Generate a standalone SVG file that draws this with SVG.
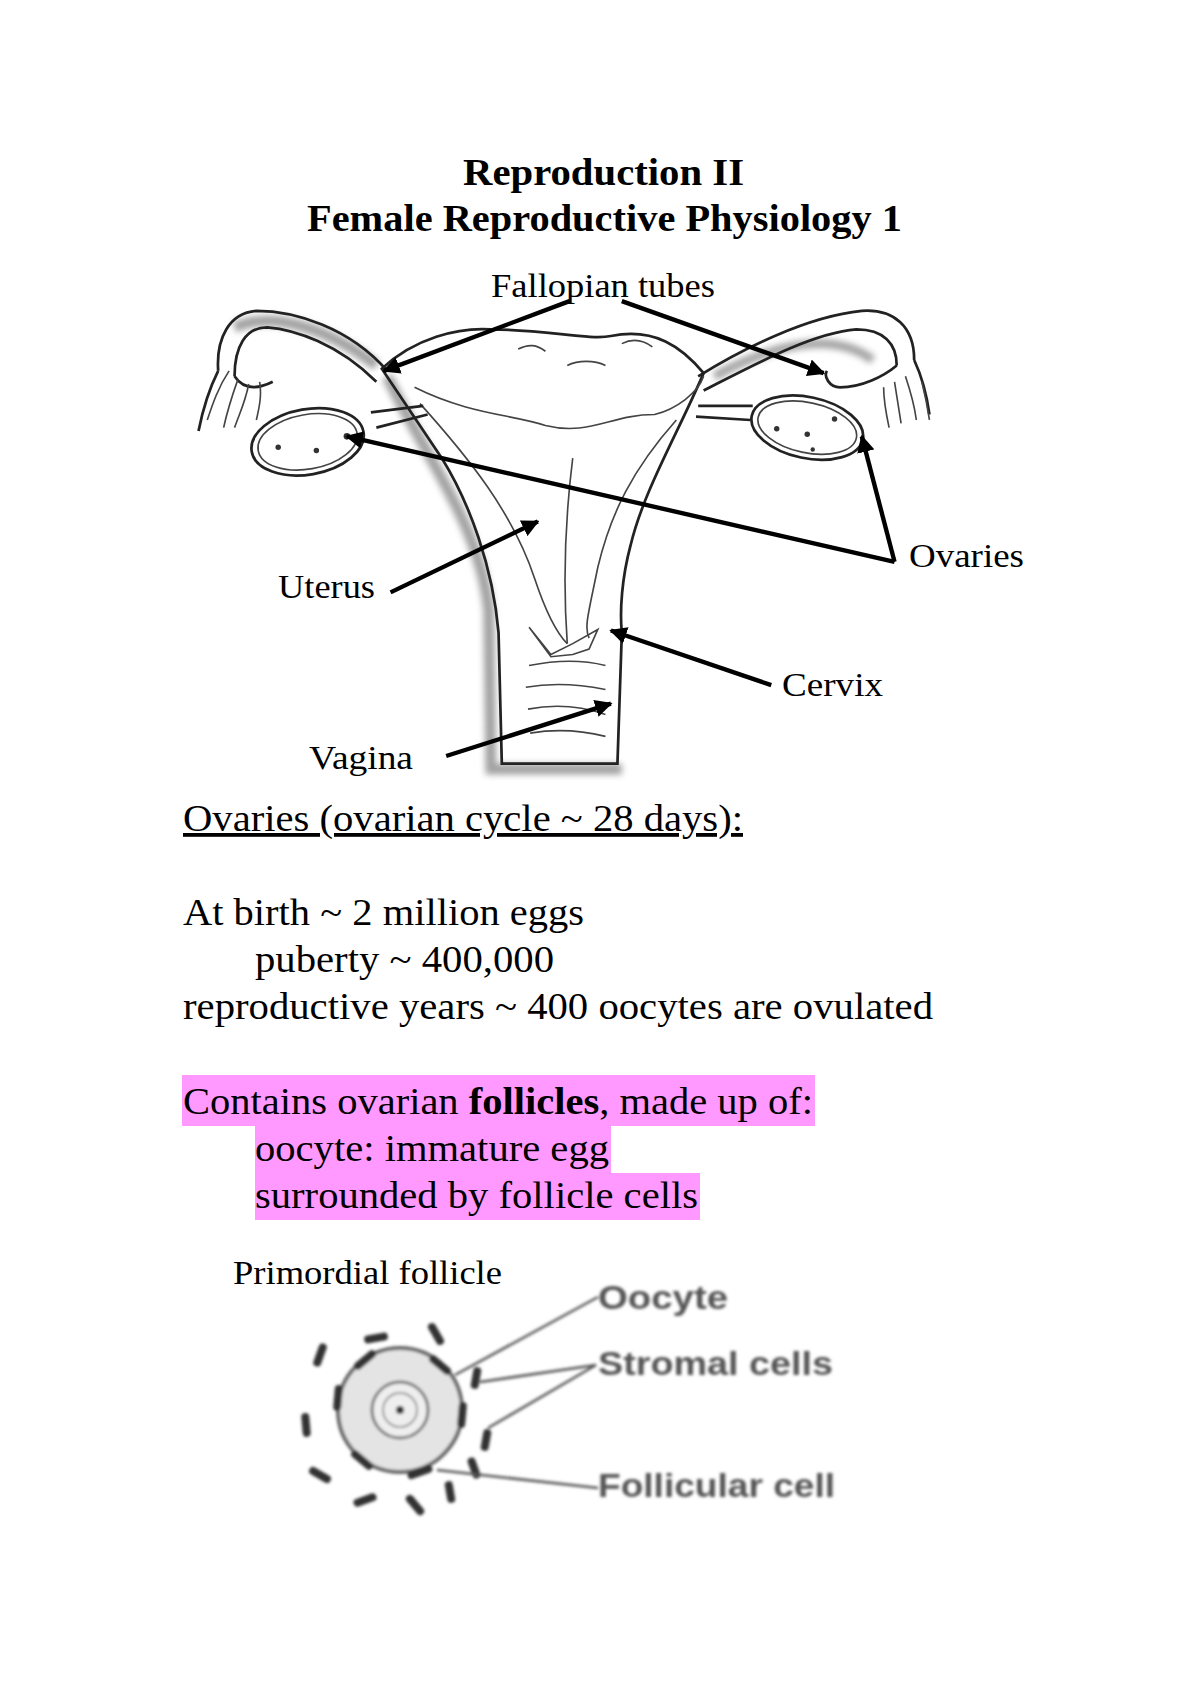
<svg xmlns="http://www.w3.org/2000/svg" width="1200" height="1698" viewBox="0 0 1200 1698">
<style>
.t{font-family:"Liberation Serif","Times New Roman",serif;fill:#000}
.a{stroke:#000;stroke-width:4;fill:none;marker-end:url(#ah)}
.o{fill:none;stroke:#222;stroke-width:2.5}
.d{fill:none;stroke:#444;stroke-width:1.5}
.g{font-family:"Liberation Sans",Arial,sans-serif;font-weight:bold;fill:#555}
.c{fill:#333}
</style>
<defs>
<marker id="ah" viewBox="0 0 10 10" refX="9" refY="5" markerWidth="4" markerHeight="4" orient="auto"><path d="M0,0 L10,5 L0,10 z" fill="#000"/></marker>
<filter id="bl"><feGaussianBlur stdDeviation="1.6"/></filter>
<filter id="sh"><feGaussianBlur stdDeviation="3"/></filter>
</defs>
<rect width="1200" height="1698" fill="#fff"/>
<g id="title">
<text class="t" x="463" y="185" font-size="38" font-weight="bold" textLength="281" lengthAdjust="spacingAndGlyphs">Reproduction II</text>
<text class="t" x="307" y="231" font-size="38" font-weight="bold" textLength="595" lengthAdjust="spacingAndGlyphs">Female Reproductive Physiology 1</text>
</g>
<g id="anatomy" transform="scale(1.0909)">
<g filter="url(#sh)" opacity="0.55">
<path d="M355,345 C390,420 440,480 448,560 L450,705 L570,705" fill="none" stroke="#555" stroke-width="10"/>
<path d="M345,335 C300,300 250,285 215,300" fill="none" stroke="#555" stroke-width="10"/>
<path d="M655,345 C700,320 760,300 800,330" fill="none" stroke="#555" stroke-width="8"/>
</g>
<path class="o" fill="#fff" d="M350,338 C380,310 420,300 450,302 C500,302 540,312 560,308 C600,300 625,318 645,342 C620,400 590,450 578,500 C570,530 568,560 570,580 L566,700 L460,700 L457,580 C452,520 430,460 405,420 C385,390 368,365 350,338 Z"/>
<path class="d" d="M380,355 C430,380 470,380 500,390 C540,400 560,380 600,380 C620,375 640,360 645,345"/>
<path class="d" d="M385,370 C430,420 470,470 490,530 C500,560 510,580 520,590"/>
<path class="d" d="M620,385 C580,430 560,470 548,520 C540,560 535,575 540,585"/>
<path class="d" d="M525,420 C520,460 515,520 520,590"/>
<path class="d" d="M485,575 L505,600 L525,590 L548,577 L540,595 L525,600 L505,602 Z"/>
<path class="d" d="M485,610 C510,605 535,605 555,610 M482,630 C510,625 535,628 555,632 M484,650 C510,645 535,648 555,655 M486,672 C510,668 535,670 555,675"/>
<path class="d" d="M520,335 C530,330 545,330 555,335 M570,315 C580,310 590,312 598,318 M475,320 C485,315 492,316 500,322"/>
<path class="o" d="M355,340 C320,300 270,285 235,285 C210,287 198,310 200,340 M345,350 C310,315 270,302 245,300 C225,300 215,318 215,345 M200,340 C190,360 185,380 182,395 M215,345 C225,360 240,355 250,350"/>
<path class="d" d="M210,340 C200,355 195,370 190,385 M218,348 C212,365 208,378 205,392 M228,352 C225,368 220,378 215,392 M238,350 C240,362 238,372 235,385"/>
<path class="o" d="M640,345 C680,320 740,290 790,285 C820,283 838,300 838,330 M645,358 C690,335 745,305 785,302 C810,302 822,315 822,335 M838,330 C845,345 850,365 852,380 M822,335 C810,345 790,355 770,355 C760,355 755,345 758,340"/>
<path class="d" d="M830,345 C835,360 838,370 840,385 M820,350 C822,362 824,375 826,388 M810,355 C810,368 812,378 815,392 M845,350 C848,362 850,372 852,385"/>
<path class="o" d="M388,372 L340,378 M392,380 L345,392 M640,372 L690,372 M638,382 L688,385"/>
<ellipse class="o" cx="282" cy="405" rx="52" ry="30" transform="rotate(-10 282 405)" fill="#fafafa"/>
<ellipse class="d" cx="282" cy="405" rx="46" ry="25" transform="rotate(-10 282 405)"/>
<ellipse class="o" cx="740" cy="392" rx="52" ry="28" transform="rotate(12 740 392)" fill="#fafafa"/>
<ellipse class="d" cx="740" cy="392" rx="46" ry="23" transform="rotate(12 740 392)"/>
<circle class="c" cx="255" cy="410" r="2.5"/><circle class="c" cx="290" cy="413" r="2.5"/><circle class="c" cx="318" cy="400" r="3"/>
<circle class="c" cx="712" cy="393" r="2.5"/><circle class="c" cx="740" cy="398" r="2.5"/><circle class="c" cx="765" cy="384" r="2.5"/><circle class="c" cx="745" cy="412" r="2"/>
</g>
<g id="connectors" transform="scale(1.0909)">
<line class="a" x1="522" y1="276" x2="352" y2="340"/>
<line class="a" x1="570" y1="276" x2="755" y2="342"/>
<line class="a" x1="820" y1="515" x2="318" y2="400"/>
<line class="a" x1="820" y1="515" x2="790" y2="400"/>
<line class="a" x1="358" y1="543" x2="493" y2="478"/>
<line class="a" x1="707" y1="628" x2="560" y2="578"/>
<line class="a" x1="409" y1="693" x2="560" y2="645"/>
</g>
<g id="labels">
<text class="t" x="491" y="297" font-size="34" textLength="224" lengthAdjust="spacingAndGlyphs">Fallopian tubes</text>
<text class="t" x="909" y="567" font-size="34" textLength="115" lengthAdjust="spacingAndGlyphs">Ovaries</text>
<text class="t" x="278" y="598" font-size="34" textLength="97" lengthAdjust="spacingAndGlyphs">Uterus</text>
<text class="t" x="782" y="696" font-size="34" textLength="101" lengthAdjust="spacingAndGlyphs">Cervix</text>
<text class="t" x="309" y="769" font-size="34" textLength="104" lengthAdjust="spacingAndGlyphs">Vagina</text>
</g>
<g id="notes">
<text class="t" x="183" y="831" font-size="38" text-decoration="underline" textLength="560" lengthAdjust="spacingAndGlyphs">Ovaries (ovarian cycle ~ 28 days):</text>
<text class="t" x="183" y="925" font-size="38" textLength="401" lengthAdjust="spacingAndGlyphs">At birth ~ 2 million eggs</text>
<text class="t" x="255" y="972" font-size="38" textLength="299" lengthAdjust="spacingAndGlyphs">puberty ~ 400,000</text>
<text class="t" x="183" y="1019" font-size="38" textLength="750" lengthAdjust="spacingAndGlyphs">reproductive years ~ 400 oocytes are ovulated</text>
<rect x="182" y="1075" width="633" height="51" fill="#FF99FF"/>
<rect x="255" y="1126" width="356" height="47" fill="#FF99FF"/>
<rect x="255" y="1173" width="445" height="47" fill="#FF99FF"/>
<text class="t" x="183" y="1114" font-size="38" textLength="630" lengthAdjust="spacingAndGlyphs">Contains ovarian <tspan font-weight="bold">follicles</tspan>, made up of:</text>
<text class="t" x="255" y="1161" font-size="38" textLength="354" lengthAdjust="spacingAndGlyphs">oocyte: immature egg</text>
<text class="t" x="255" y="1208" font-size="38" textLength="443" lengthAdjust="spacingAndGlyphs">surrounded by follicle cells</text>
</g>
<g id="follicle">
<text class="t" x="233" y="1284" font-size="34" textLength="269" lengthAdjust="spacingAndGlyphs">Primordial follicle</text>
<g filter="url(#bl)">
<circle cx="400" cy="1410" r="62" fill="#e4e4e4" stroke="#666" stroke-width="4"/>
<circle cx="400" cy="1410" r="28" fill="#eee" stroke="#777" stroke-width="3"/>
<circle cx="400" cy="1410" r="17" fill="none" stroke="#999" stroke-width="2"/>
<circle cx="400" cy="1410" r="4" fill="#333"/>
<g fill="#333">
<rect x="-4" y="-13" width="8" height="26" rx="4" transform="translate(338,1398) rotate(5)"/>
<rect x="-4" y="-13" width="8" height="26" rx="4" transform="translate(462,1415) rotate(5)"/>
<rect x="-4" y="-13" width="8" height="26" rx="4" transform="translate(365,1360) rotate(50)"/>
<rect x="-4" y="-13" width="8" height="26" rx="4" transform="translate(440,1365) rotate(-50)"/>
<rect x="-4" y="-13" width="8" height="26" rx="4" transform="translate(362,1460) rotate(-50)"/>
<rect x="-4" y="-13" width="8" height="26" rx="4" transform="translate(420,1472) rotate(70)"/>
<rect x="-4" y="-12" width="8" height="24" rx="4" transform="translate(320,1355) rotate(20)"/>
<rect x="-4" y="-12" width="8" height="24" rx="4" transform="translate(306,1425) rotate(-5)"/>
<rect x="-4" y="-12" width="8" height="24" rx="4" transform="translate(320,1475) rotate(-60)"/>
<rect x="-4" y="-12" width="8" height="24" rx="4" transform="translate(365,1500) rotate(70)"/>
<rect x="-4" y="-12" width="8" height="24" rx="4" transform="translate(415,1505) rotate(-40)"/>
<rect x="-4" y="-12" width="8" height="24" rx="4" transform="translate(376,1338) rotate(80)"/>
<rect x="-4" y="-12" width="8" height="24" rx="4" transform="translate(436,1334) rotate(-30)"/>
<rect x="-4" y="-11" width="8" height="22" rx="4" transform="translate(476,1378) rotate(10)"/>
<rect x="-4" y="-11" width="8" height="22" rx="4" transform="translate(486,1440) rotate(10)"/>
<rect x="-4" y="-11" width="8" height="22" rx="4" transform="translate(474,1468) rotate(-20)"/>
<rect x="-4" y="-11" width="8" height="22" rx="4" transform="translate(450,1492) rotate(-10)"/>
</g>
<path d="M455,1375 L598,1297 M480,1382 L596,1365 L488,1428 M437,1470 L598,1488" fill="none" stroke="#555" stroke-width="2.5"/>
<text class="g" x="598" y="1309" font-size="34" textLength="130" lengthAdjust="spacingAndGlyphs">Oocyte</text>
<text class="g" x="598" y="1375" font-size="34" textLength="235" lengthAdjust="spacingAndGlyphs">Stromal cells</text>
<text class="g" x="598" y="1497" font-size="34" textLength="237" lengthAdjust="spacingAndGlyphs">Follicular cell</text>
</g>
</g>
</svg>
